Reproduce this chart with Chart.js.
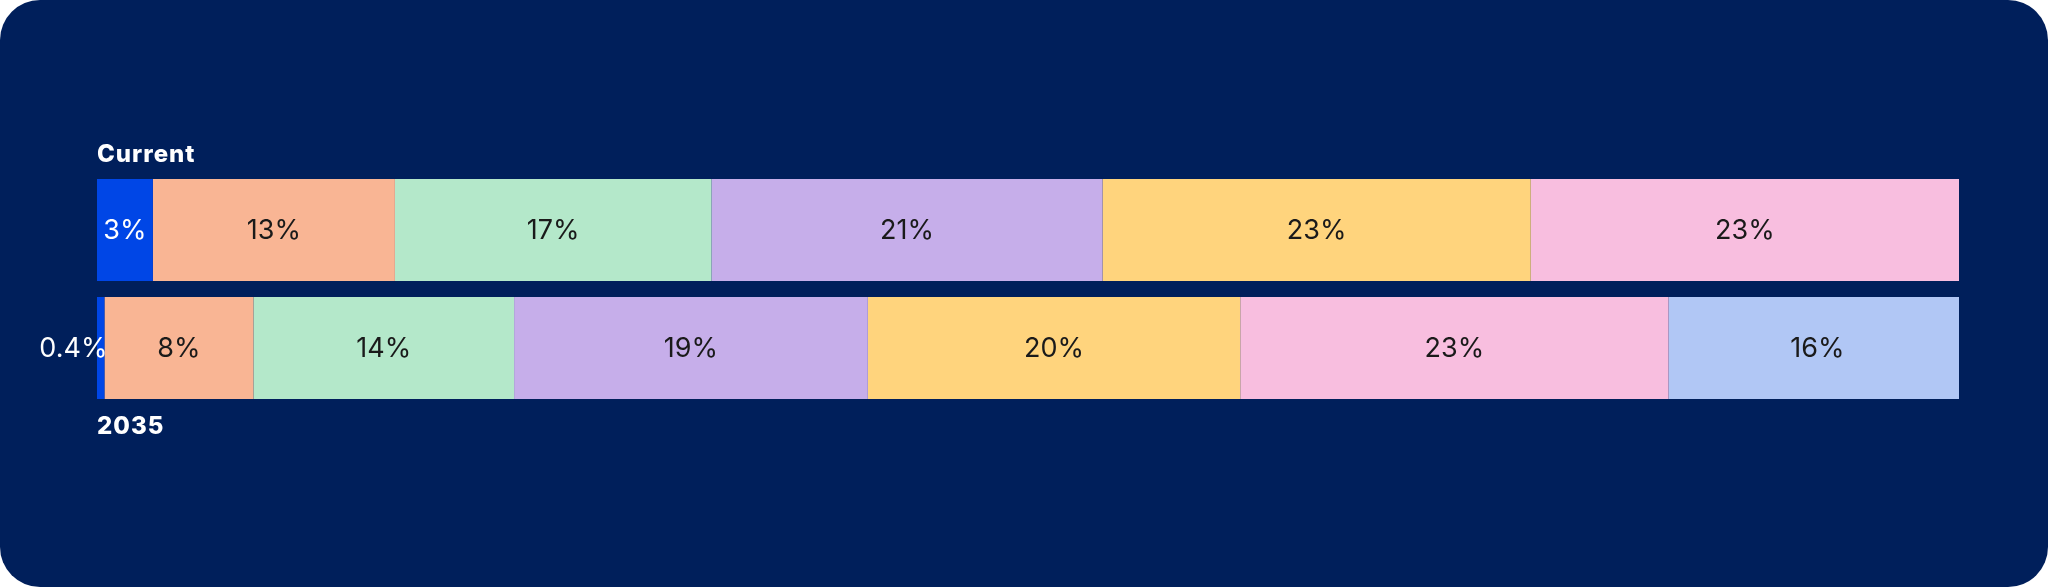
<!DOCTYPE html>
<html>
<head>
<meta charset="utf-8">
<script src="https://cdn.jsdelivr.net/npm/chart.js@4.4.1/dist/chart.umd.min.js"></script>
<style>
    html, body { margin: 0; padding: 0; background: #ffffff; }
    #wrap {
        position: relative;
        width: 2048px;
        height: 587px;
        background: #001f5b;
        border-radius: 40px;
        overflow: hidden;
    }
</style>
</head>
<body>
<div id="wrap"><canvas id="shareChart" width="2048" height="587"></canvas></div>
<script>
// rows of the chart
const categories = ['Current', '2035'];

// share of each segment, left to right, per row (null = no segment)
const currentShares = [3, 13, 17, 21, 23, 23, null];
const shares2035 = [0.4, 8, 14, 19, 20, 23, 16];

// label text shown inside each segment
const currentLabels = ['3%', '13%', '17%', '21%', '23%', '23%', ''];
const labels2035 = ['0.4%', '8%', '14%', '19%', '20%', '23%', '16%'];

const segmentColors = ['#0046e6', '#f9b594', '#b4e8ca', '#c6aeea', '#ffd47d', '#f8bedf', '#b1c7f5'];
const labelColors = ['#ffffff', '#1a1a1a', '#1a1a1a', '#1a1a1a', '#1a1a1a', '#1a1a1a', '#1a1a1a'];

const datasets = segmentColors.map(function(color, i) {
    return {
        label: 'Segment ' + (i + 1),
        data: [currentShares[i], shares2035[i]],
        backgroundColor: color,
        borderWidth: 0,
        clip: 0
    };
});

const segmentLabels = [currentLabels, labels2035];

// draws the % labels and the row names
const labelPlugin = {
    id: 'segmentLabels',
    afterDatasetsDraw: function(chart) {
        const ctx = chart.ctx;
        ctx.save();
        ctx.textBaseline = 'middle';
        ctx.font = '400 27px Inter, "Open Sans", sans-serif';
        chart.data.datasets.forEach(function(ds, i) {
            const meta = chart.getDatasetMeta(i);
            meta.data.forEach(function(bar, row) {
                const text = segmentLabels[row][i];
                if (!text || ds.data[row] == null) return;
                const left = Math.min(bar.x, bar.base);
                const right = Math.max(bar.x, bar.base);
                const w = ctx.measureText(text).width;
                ctx.fillStyle = labelColors[i];
                if (w > right - left - 4) {
                    ctx.textAlign = 'right';
                    ctx.fillText(text, right + 3, bar.y + 1);
                } else {
                    ctx.textAlign = 'center';
                    ctx.fillText(text, (left + right) / 2, bar.y + 1);
                }
            });
        });

        // row names: first above its bar, second below
        const meta0 = chart.getDatasetMeta(0);
        ctx.font = '800 24px Inter, "Open Sans", sans-serif';
        ctx.letterSpacing = '1px';
        ctx.fillStyle = '#ffffff';
        ctx.textAlign = 'left';
        ctx.textBaseline = 'alphabetic';
        const b0 = meta0.data[0];
        const b1 = meta0.data[1];
        ctx.fillText(categories[0], chart.chartArea.left, b0.y - b0.height / 2 - 17);
        ctx.fillText(categories[1], chart.chartArea.left, b1.y + b1.height / 2 + 35);
        ctx.restore();
    }
};

const ctx = document.getElementById('shareChart').getContext('2d');
const myChart = new Chart(ctx, {
    type: 'bar',
    data: {
        labels: categories,
        datasets: datasets
    },
    options: {
        indexAxis: 'y',
        responsive: false,
        animation: false,
        layout: {
            padding: { left: 97, right: 89, top: 171, bottom: 180 }
        },
        datasets: {
            bar: { categoryPercentage: 0.864, barPercentage: 1 }
        },
        scales: {
            x: { stacked: true, min: 0, max: 100, display: false },
            y: { stacked: true, display: false }
        },
        plugins: {
            legend: { display: false },
            tooltip: { enabled: false }
        }
    },
    plugins: [labelPlugin]
});
</script>
</body>
</html>
